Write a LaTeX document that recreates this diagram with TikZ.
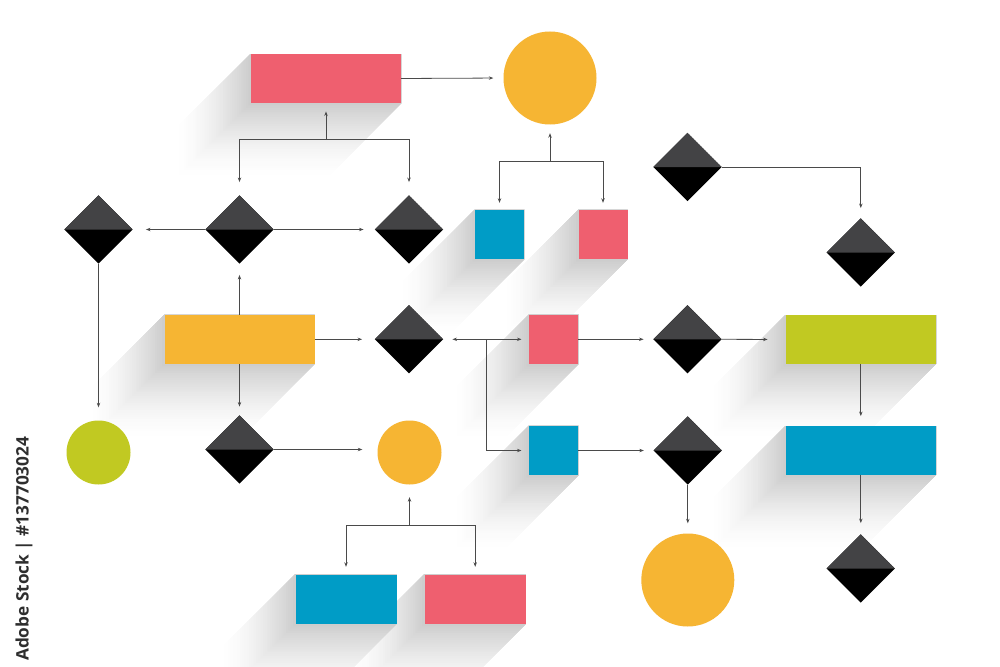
\documentclass[tikz,border=0pt]{standalone}
\usepackage{fontspec}
\setmainfont{Open Sans}
\usetikzlibrary{shapes.geometric,arrows.meta}
\pgfdeclarelayer{bg}
\pgfsetlayers{bg,main}
\definecolor{cred}{HTML}{EF5F6F}
\definecolor{cyel}{HTML}{F6B533}
\definecolor{cblu}{HTML}{009CC6}
\definecolor{cgrn}{HTML}{C1C922}
\definecolor{dtop}{HTML}{434345}
\definecolor{lnc}{HTML}{4A4A4A}
\definecolor{shd}{HTML}{CDCDCD}
\definecolor{wmc}{HTML}{2E2E2E}
\begin{document}
\begin{tikzpicture}[x=1pt,y=-1pt,
  wide/.style={rectangle, inner sep=0pt, minimum width=150pt, minimum height=48.5pt},
  sq/.style={rectangle, inner sep=0pt, minimum width=49pt, minimum height=49pt},
  half/.style={rectangle, inner sep=0pt, minimum width=101pt, minimum height=49pt},
  bigc/.style={circle, inner sep=0pt, minimum size=93pt},
  smallc/.style={circle, inner sep=0pt, minimum size=64pt},
  dec/.style={diamond, aspect=1, inner sep=0pt, minimum width=68.5pt, minimum height=68.5pt, fill=black,
    path picture={\fill[dtop] (path picture bounding box.west) -- (path picture bounding box.north) -- (path picture bounding box.east) -- cycle;}},
  arr/.style={draw=lnc, line width=0.8pt, -{Stealth[length=4.5pt,width=3.4pt]}, shorten >=10pt}
]
\useasboundingbox (0,0) rectangle (1000,666);

% ---------- shapes ----------
\node[wide, fill=cred] (r1) at (326,78.5) {};
\node[bigc, fill=cyel] (c1) at (550,78) {};

\node[dec] (d1) at (98.5,229.5) {};
\node[dec] (d2) at (239.5,229.5) {};
\node[dec] (d3) at (409,229.5) {};
\node[sq, fill=cblu] (s1) at (499.5,234.5) {};
\node[sq, fill=cred] (s2) at (603,234.5) {};

\node[dec] (d8) at (687.5,167) {};
\node[dec] (d9) at (860.8,252.5) {};

\node[wide, fill=cyel] (r2) at (239.5,339.3) {};
\node[dec] (d4) at (409,339.3) {};
\node[sq, fill=cred] (s3) at (553.7,339.3) {};
\node[dec] (d6) at (687.5,339.3) {};
\node[wide, fill=cgrn] (r3) at (860.8,339.5) {};

\node[smallc, fill=cgrn] (c2) at (98.5,452.5) {};
\node[dec] (d5) at (239.5,449.5) {};
\node[smallc, fill=cyel] (c3) at (409.5,452.5) {};
\node[sq, fill=cblu] (s4) at (553.7,450.5) {};
\node[dec] (d7) at (687.8,450.5) {};
\node[wide, fill=cblu] (r4) at (860.8,450.5) {};

\node[bigc, fill=cyel] (c4) at (687.8,580) {};
\node[dec] (d10) at (860.8,568.5) {};
\node[half, fill=cblu] (r5) at (346,599) {};
\node[half, fill=cred] (r6) at (475.2,599) {};

% ---------- long shadows ----------
\begin{pgfonlayer}{bg}
\fill[white] (0,0) rectangle (1000,666);
\foreach \i in {32,31,...,1}{
  \pgfmathsetmacro\sh{\i*2.3}
  \pgfmathsetmacro\cc{100*(1-(\i-1)/32)^1.6}
  \foreach \n in {r1,s1,s2,r2,s3,s4,r3,r4,r5,r6}{
    \fill[shd!\cc!white] (\n.north west) -- (\n.north east) -- (\n.south east)
      -- ([shift={(-\sh,\sh)}]\n.south east) -- ([shift={(-\sh,\sh)}]\n.south west)
      -- ([shift={(-\sh,\sh)}]\n.north west) -- cycle;
  }
}
\end{pgfonlayer}

% ---------- connectors ----------
\draw[arr] (r1.east) -- (c1.west);

\coordinate (j1) at (326,139);
\draw[arr, shorten >=8.5pt] (j1) -- (r1.south);
\draw[arr, shorten >=13pt] (j1) -| (d2.north);
\draw[arr, shorten >=13pt] (j1) -| (d3.north);

\coordinate (j2) at (550,161);
\draw[arr, shorten >=8.5pt] (j2) -- (c1.south);
\draw[arr, shorten >=7pt] (j2) -| (s1.north);
\draw[arr, shorten >=7pt] (j2) -| (s2.north);

\draw[arr, shorten >=13pt] (d2.west) -- (d1.east);
\draw[arr, shorten >=11pt] (d2.east) -- (d3.west);
\draw[arr, shorten >=13pt] (d1.south) -- (c2.north);

\draw[arr, shorten >=11pt] (r2.north) -- (d2.south);
\draw[arr, shorten >=12.5pt] (r2.east) -- (d4.west);
\draw[arr, shorten >=8.5pt] (r2.south) -- (d5.north);
\draw[arr, shorten >=15pt] (d5.east) -- (d5.east -| c3.west);

\coordinate (j3) at (486,339.3);
\draw[arr, shorten >=9pt] (j3) -- (d4.east);
\draw[arr, shorten >=7.5pt] (j3) -- (s3.west);
\draw[arr, shorten >=7.5pt] (j3) |- (s4.west);

\draw[arr, shorten >=9.5pt] (s3.east) -- (d6.west);
\draw[arr, shorten >=9.5pt] (s4.east) -- (d7.west);
\draw[arr, shorten >=18pt] (d6.east) -- (r3.west);

\draw[arr, shorten >=10pt] (d8.east) -| (d9.north);
\draw[arr, shorten >=10pt] (r3.south) -- (r4.north);
\draw[arr, shorten >=11pt] (r4.south) -- (d10.north);
\draw[arr, shorten >=10pt] (d7.south) -- (c4.north);

\coordinate (j4) at (409.5,525);
\draw[arr, shorten >=12.5pt] (j4) -- (c3.south);
\draw[arr, shorten >=7.5pt] (j4) -| (r5.north);
\draw[arr, shorten >=7.5pt] (j4) -| (r6.north);

% ---------- side credit ----------
\node[rotate=90, anchor=west, inner sep=0pt, text=wmc, font=\fontsize{17.2}{20}\selectfont\bfseries] (wm) at (24,661) {Adobe Stock | \#137703024};
\end{tikzpicture}
\end{document}
